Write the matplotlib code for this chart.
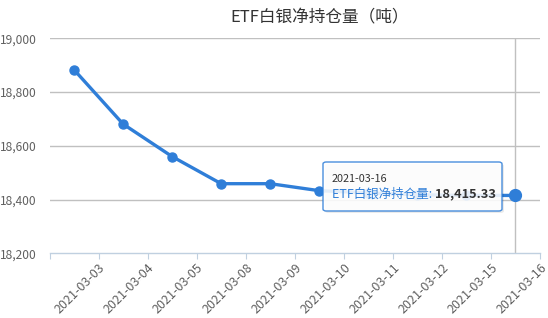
import matplotlib
matplotlib.use("Agg")
import matplotlib.pyplot as plt
from matplotlib.patches import FancyBboxPatch
import matplotlib.ticker as mticker

plt.rcParams['font.family'] = ['Noto Sans CJK SC', 'DejaVu Sans']

dates = ["2021-03-03", "2021-03-04", "2021-03-05", "2021-03-08", "2021-03-09",
         "2021-03-10", "2021-03-11", "2021-03-12", "2021-03-15", "2021-03-16"]
values = [18883, 18681, 18560, 18459, 18459, 18433, 18425, 18418, 18415.33, 18415.33]
title = "ETF白银净持仓量（吨）"
series_name = "ETF白银净持仓量"
yticks = [18200, 18400, 18600, 18800, 19000]

W, H = 548, 318
fig = plt.figure(figsize=(W/100, H/100), dpi=100)
left, right, top, bottom = 49.5, 540, 38.3, 253.3
ax = fig.add_axes([left/W, 1-bottom/H, (right-left)/W, (bottom-top)/H])

line_color = "#2f7ed8"
x = list(range(len(dates)))
ax.set_xlim(-0.5, len(dates)-0.5)
ax.set_ylim(18200, 19000)

# grid
for yv in yticks[1:]:
    ax.axhline(yv, color="#c0c0c0", lw=1, zorder=1)

# crosshair on hovered point
hi = len(dates)-1
ax.axvline(x[hi], color="#c0c0c0", lw=1, zorder=1)

ax.plot(x, values, color=line_color, lw=2.4, marker='o', ms=6.5, zorder=3,
        solid_capstyle='round')
ax.plot([x[hi]], [values[hi]], marker='o', ms=8.5, color=line_color, zorder=4, lw=0)

for s in ['top', 'right', 'left']:
    ax.spines[s].set_visible(False)
ax.spines['bottom'].set_color("#c0d0e0")
ax.spines['bottom'].set_linewidth(1)

ax.set_yticks(yticks)
ax.yaxis.set_major_formatter(mticker.FuncFormatter(lambda v, p: f"{int(v):,}"))
ax.tick_params(axis='y', length=0, pad=9, labelsize=8.6, labelcolor="#606060")

ax.set_xticks([i - 0.5 for i in range(len(dates)+1)])
ax.set_xticklabels([""] + dates)
ax.tick_params(axis='x', length=4, color="#c0d0e0", labelsize=9.0, labelcolor="#606060", pad=2)
for lab in ax.get_xticklabels():
    lab.set_rotation(45)
    lab.set_ha('right')
    lab.set_va('top')
    lab.set_rotation_mode('anchor')

fig.text(320/W, 1-18/H, title, ha='center', va='center', fontsize=12, color="#333333")

# tooltip
bx0, by0, bx1, by1 = 323, 162, 502, 211
box = FancyBboxPatch(((bx0+2)/W, 1-(by1+2)/H), (bx1-bx0)/W, (by1-by0)/H,
                     boxstyle="round,pad=0,rounding_size=0.006",
                     transform=fig.transFigure, fc="#000000", alpha=0.08, ec='none', zorder=9)
fig.patches.append(box)
box = FancyBboxPatch((bx0/W, 1-by1/H), (bx1-bx0)/W, (by1-by0)/H,
                     boxstyle="round,pad=0,rounding_size=0.006",
                     transform=fig.transFigure, fc="white", alpha=0.88,
                     ec=line_color, lw=1, zorder=10)
fig.patches.append(box)
fig.text(332/W, 1-179/H, dates[hi], fontsize=7.8, color="#333333", va='center', ha='left', zorder=11)
t1 = fig.text(332/W, 1-194/H, series_name + ": ", fontsize=9, color=line_color, va='center', ha='left', zorder=11)
fig.canvas.draw()
bb = t1.get_window_extent()
fig.text(bb.x1/W, 1-194/H, f"{values[hi]:,.2f}", fontsize=9.2, color="#333333",
         fontweight='bold', va='center', ha='left', zorder=11)

fig.savefig("out.png", dpi=100)
